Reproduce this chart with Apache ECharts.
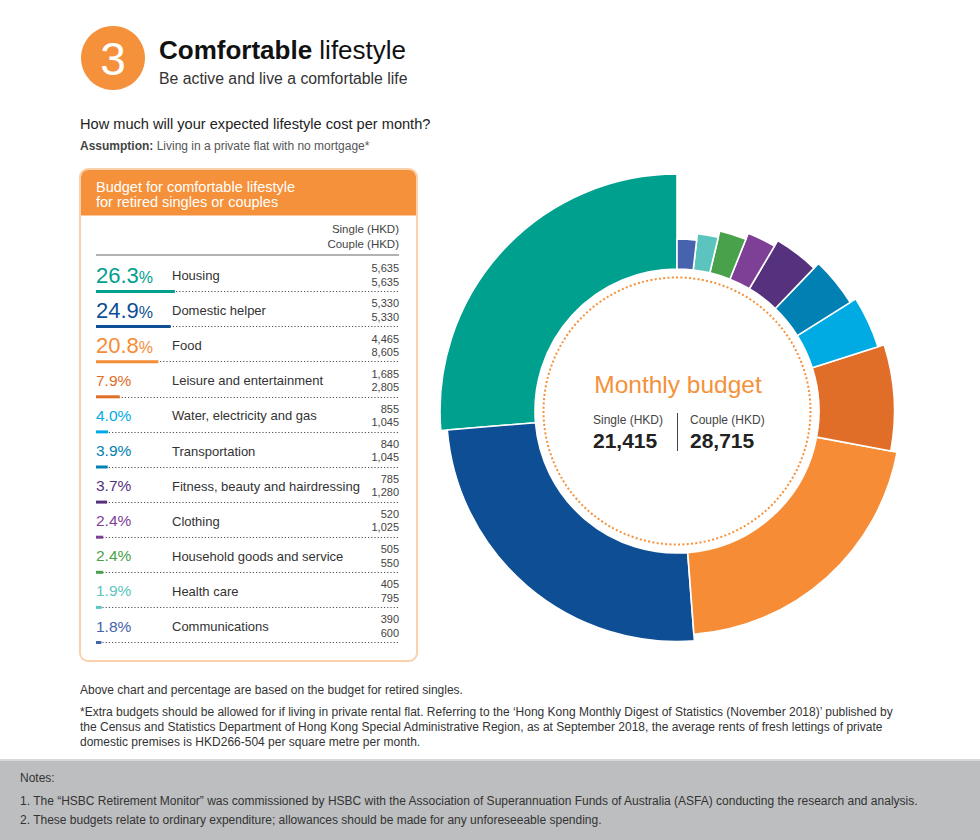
<!DOCTYPE html>
<html>
<head>
<meta charset="utf-8">
<script src="https://cdn.jsdelivr.net/npm/echarts@6/dist/echarts.min.js"></script>
<style>
	html, body { margin: 0; padding: 0; background: #fff; }
	#main { width: 980px; height: 840px; }
</style>
</head>
<body>
<div id="main"></div>
<script>
//Budget rows, in table order (chart is based on singles)
let categories = ['Housing', 'Domestic helper', 'Food', 'Leisure and entertainment', 'Water, electricity and gas',
	'Transportation', 'Fitness, beauty and hairdressing', 'Clothing', 'Household goods and service', 'Health care', 'Communications'];
let singleHKD = [5635, 5330, 4465, 1685, 855, 840, 785, 520, 505, 405, 390];
let coupleHKD = [5635, 5330, 8605, 2805, 1045, 1045, 1280, 1025, 550, 795, 600];
let sharePct = [26.3, 24.9, 20.8, 7.9, 4.0, 3.9, 3.7, 2.4, 2.4, 1.9, 1.8];
let colors = ['#00A08F', '#0E4E95', '#F68D36', '#E06E28', '#00ABE4', '#0080B3', '#55317E', '#7E3F97', '#4AA14B', '#5CC4BE', '#4763AD'];
let columnNames = ['Single (HKD)', 'Couple (HKD)'];

let FONT = '"Liberation Sans", Arial, Helvetica, sans-serif';
let ORANGE = '#F5913A';

function fmt(n) {
	return n.toLocaleString('en-US');
}
let totalSingle = singleHKD.reduce(function (a, b) { return a + b; }, 0);
let totalCouple = coupleHKD.reduce(function (a, b) { return a + b; }, 0);

//Donut geometry
let cx = 677, cy = 411;
let innerR = 142;

let series = [];
//One pie per slice so each slice can get its own outer radius (bigger share = longer slice)
categories.forEach(function (name, i) {
	let outerR = 172 + 6.5 * (categories.length - 1 - i);
	series.push({
		type: 'pie',
		silent: true,
		animation: false,
		center: [cx, cy],
		radius: [innerR, outerR],
		startAngle: 90,
		clockwise: false,
		label: { show: false },
		labelLine: { show: false },
		emphasis: { disabled: true },
		data: categories.map(function (n, j) {
			return {
				name: n,
				value: singleHKD[j],
				itemStyle: j === i
					? { color: colors[j], borderColor: '#fff', borderWidth: 1.6 }
					: { color: 'rgba(0,0,0,0)', borderWidth: 0 }
			};
		})
	});
});

//Little bars under the percentages in the table
series.push({
	type: 'bar',
	silent: true,
	animation: false,
	xAxisIndex: 0,
	yAxisIndex: 0,
	barWidth: 3,
	data: sharePct.map(function (v, i) {
		return { value: v, itemStyle: { color: colors[i] } };
	})
});

//Rich styles for the percentage column
let pctRich = {};
colors.forEach(function (c, i) {
	pctRich['b' + i] = { fontFamily: FONT, fontSize: 22, color: c, verticalAlign: 'bottom' };
	pctRich['s' + i] = { fontFamily: FONT, fontSize: 16, color: c, verticalAlign: 'bottom', padding: [0, 0, 1, 0] };
	pctRich['n' + i] = { fontFamily: FONT, fontSize: 15.5, color: c };
});

let tableLeft = 96, tableRight = 399;

let option = {
	backgroundColor: '#fff',
	animation: false,
	grid: {
		left: tableLeft,
		right: 980 - tableRight,
		top: 291.5,
		bottom: 840 - 642.5,
		outerBoundsMode: 'none'
	},
	xAxis: {
		type: 'value',
		min: 0,
		max: (tableRight - tableLeft) / 3,
		show: false
	},
	yAxis: [{
		type: 'category',
		data: categories,
		inverse: true,
		boundaryGap: false,
		position: 'left',
		axisLine: { show: false },
		axisTick: { show: false },
		splitLine: { show: true, interval: 0, lineStyle: { color: '#555', width: 1.2, type: [1.2, 2] } },
		axisLabel: {
			inside: true,
			margin: 0,
			interval: 0,
			align: 'left',
			padding: [0, 0, 33, 0],
			formatter: function (v, i) {
				let p = sharePct[i].toFixed(1);
				if (i < 3) return '{b' + i + '|' + p + '}{s' + i + '|%}';
				return '{n' + i + '|' + p + '%}';
			},
			rich: pctRich
		}
	}, {
		type: 'category',
		data: categories,
		inverse: true,
		boundaryGap: false,
		position: 'left',
		offset: -76,
		axisLine: { show: false },
		axisTick: { show: false },
		splitLine: { show: false },
		axisLabel: {
			inside: true,
			margin: 0,
			interval: 0,
			align: 'left',
			padding: [0, 0, 32, 0],
			formatter: function (v) {
				return '{c|' + v + '}';
			},
			rich: {
				c: { fontFamily: FONT, fontSize: 13, color: '#333' }
			}
		}
	}, {
		type: 'category',
		data: categories,
		inverse: true,
		boundaryGap: false,
		position: 'right',
		axisLine: { show: false },
		axisTick: { show: false },
		splitLine: { show: false },
		axisLabel: {
			inside: true,
			margin: 0,
			interval: 0,
			align: 'right',
			padding: [0, 0, 33, 0],
			formatter: function (v, i) {
				return '{v|' + fmt(singleHKD[i]) + '}\n{v|' + fmt(coupleHKD[i]) + '}';
			},
			rich: {
				v: { fontFamily: FONT, fontSize: 11, lineHeight: 13.4, color: '#444', align: 'right' }
			}
		}
	}],
	series: series,
	graphic: [
		//Heading
		{ type: 'circle', shape: { cx: 113, cy: 58, r: 32 }, style: { fill: ORANGE } },
		{ type: 'text', x: 113, y: 59, style: { text: '3', fill: '#fff', font: '46px ' + FONT, align: 'center', verticalAlign: 'middle' } },
		{
			type: 'text', x: 159, y: 50,
			style: {
				text: '{b|Comfortable}{r| lifestyle}', verticalAlign: 'middle',
				rich: {
					b: { fontFamily: FONT, fontSize: 26, fontWeight: 'bold', fill: '#111' },
					r: { fontFamily: FONT, fontSize: 26, fill: '#111' }
				}
			}
		},
		{ type: 'text', x: 159, y: 78, style: { text: 'Be active and live a comfortable life', fill: '#333', font: '15.8px ' + FONT, verticalAlign: 'middle' } },
		{ type: 'text', x: 80, y: 124, style: { text: 'How much will your expected lifestyle cost per month?', fill: '#222', font: '14.6px ' + FONT, verticalAlign: 'middle' } },
		{
			type: 'text', x: 80, y: 145.5,
			style: {
				text: '{b|Assumption:}{r| Living in a private flat with no mortgage*}', verticalAlign: 'middle',
				rich: {
					b: { fontFamily: FONT, fontSize: 12, fontWeight: 'bold', fill: '#444' },
					r: { fontFamily: FONT, fontSize: 12, fill: '#555' }
				}
			}
		},
		//Table panel
		{ type: 'rect', shape: { x: 80, y: 169, width: 337, height: 492, r: 8 }, style: { fill: 'none', stroke: '#FBD0AC', lineWidth: 2 } },
		{ type: 'rect', shape: { x: 81, y: 170, width: 335, height: 45.5, r: [7, 7, 0, 0] }, style: { fill: ORANGE } },
		{ type: 'text', x: 96, y: 194, style: { text: 'Budget for comfortable lifestyle\nfor retired singles or couples', fill: '#fff', font: '14.5px ' + FONT, lineHeight: 15, verticalAlign: 'middle' } },
		{ type: 'text', x: tableRight, y: 236.5, style: { text: columnNames.join('\n'), fill: '#444', font: '11.5px ' + FONT, lineHeight: 14.5, align: 'right', verticalAlign: 'middle' } },
		{ type: 'line', shape: { x1: tableLeft, y1: 255, x2: tableRight, y2: 255 }, style: { stroke: '#999', lineWidth: 1.5 } },
		//Donut centre
		{ type: 'circle', shape: { cx: cx, cy: cy, r: 133.5 }, style: { fill: 'none', stroke: ORANGE, lineWidth: 2, lineDash: [2, 2.3] } },
		{ type: 'text', x: cx + 1, y: 384, style: { text: 'Monthly budget', fill: ORANGE, font: '24.5px ' + FONT, align: 'center', verticalAlign: 'middle' } },
		{ type: 'text', x: 593, y: 420, style: { text: columnNames[0], fill: '#444', font: '12px ' + FONT, verticalAlign: 'middle' } },
		{ type: 'text', x: 593, y: 440, style: { text: fmt(totalSingle), fill: '#222', font: 'bold 21px ' + FONT, verticalAlign: 'middle' } },
		{ type: 'line', shape: { x1: 677.5, y1: 413, x2: 677.5, y2: 451 }, style: { stroke: '#444', lineWidth: 1 } },
		{ type: 'text', x: 690, y: 420, style: { text: columnNames[1], fill: '#444', font: '12px ' + FONT, verticalAlign: 'middle' } },
		{ type: 'text', x: 690, y: 440, style: { text: fmt(totalCouple), fill: '#222', font: 'bold 21px ' + FONT, verticalAlign: 'middle' } },
		//Footnotes
		{ type: 'text', x: 80, y: 690, style: { text: 'Above chart and percentage are based on the budget for retired singles.', fill: '#333', font: '12px ' + FONT, verticalAlign: 'middle' } },
		{
			type: 'text', x: 80, y: 704.5,
			style: {
				text: '*Extra budgets should be allowed for if living in private rental flat. Referring to the \u2018Hong Kong Monthly Digest of Statistics (November 2018)\u2019 published by\n' +
					'the Census and Statistics Department of Hong Kong Special Administrative Region, as at September 2018, the average rents of fresh lettings of private\n' +
					'domestic premises is HKD266-504 per square metre per month.',
				fill: '#333', font: '12px ' + FONT, lineHeight: 14.8, verticalAlign: 'top'
			}
		},
		//Notes band
		{ type: 'rect', shape: { x: 0, y: 760, width: 980, height: 80 }, style: { fill: '#BDBEC0' } },
		{ type: 'rect', shape: { x: 0, y: 759, width: 980, height: 2 }, style: { fill: '#D6D7D9' } },
		{ type: 'text', x: 20, y: 778, style: { text: 'Notes:', fill: '#333', font: '12px ' + FONT, verticalAlign: 'middle' } },
		{ type: 'text', x: 20, y: 800.5, style: { text: '1. The \u201CHSBC Retirement Monitor\u201D was commissioned by HSBC with the Association of Superannuation Funds of Australia (ASFA) conducting the research and analysis.', fill: '#333', font: '12px ' + FONT, verticalAlign: 'middle' } },
		{ type: 'text', x: 20, y: 820, style: { text: '2. These budgets relate to ordinary expenditure; allowances should be made for any unforeseeable spending.', fill: '#333', font: '12px ' + FONT, verticalAlign: 'middle' } }
	]
};

window.onload = function () {
	let chart = echarts.init(document.getElementById('main'), null, { renderer: 'svg' });
	chart.setOption(option);
};
</script>
</body>
</html>
